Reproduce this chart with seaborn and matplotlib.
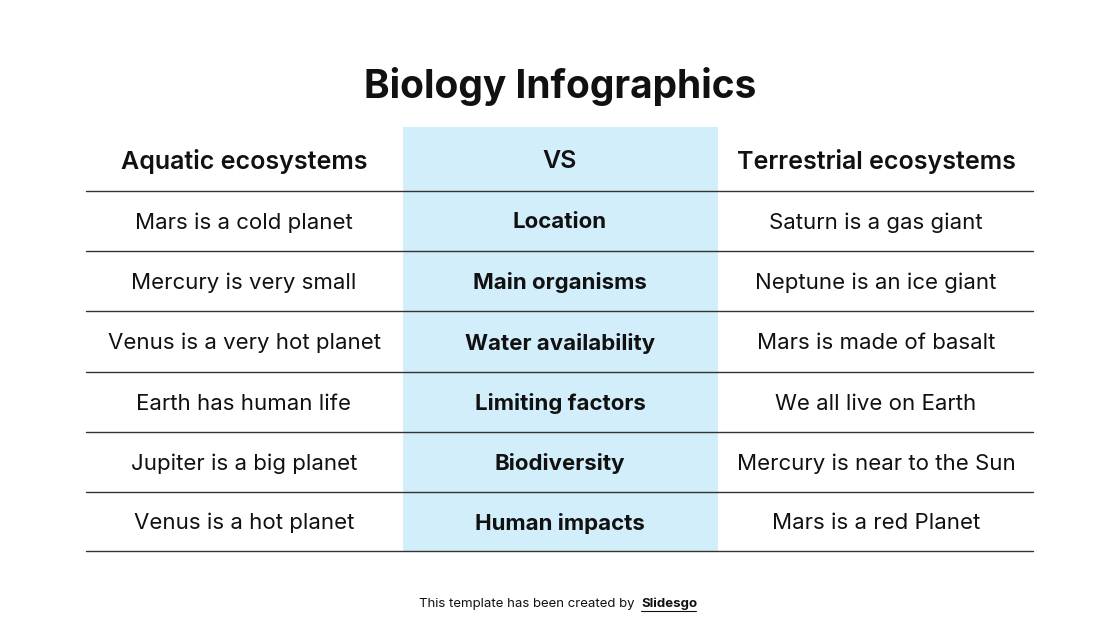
import matplotlib
matplotlib.use("Agg")
import matplotlib.pyplot as plt
import seaborn as sns

title = "Biology Infographics"
headers = ["Aquatic ecosystems", "VS", "Terrestrial ecosystems"]
left_col = ["Mars is a cold planet", "Mercury is very small", "Venus is a very hot planet",
            "Earth has human life", "Jupiter is a big planet", "Venus is a hot planet"]
mid_col = ["Location", "Main organisms", "Water availability",
           "Limiting factors", "Biodiversity", "Human impacts"]
right_col = ["Saturn is a gas giant", "Neptune is an ice giant", "Mars is made of basalt",
             "We all live on Earth", "Mercury is near to the Sun", "Mars is a red Planet"]

sns.set_theme(style="white")
plt.rcParams['font.family'] = ['Inter', 'DejaVu Sans']

fig = plt.figure(figsize=(11.2, 6.3), dpi=100)
ax = fig.add_axes([0, 0, 1, 1])
ax.set_xlim(0, 1120)
ax.set_ylim(630, 0)
ax.axis("off")

ax.text(560, 86, title, ha="center", va="center", fontsize=28, fontweight="bold", color="#111")

ax.fill_between([403, 718], 127, 551, color="#D2EEFB", lw=0, zorder=0)

col_x = [244, 560, 876]
for x, h in zip(col_x, headers):
    ax.text(x, 161, h, ha="center", va="center", fontsize=18, color="#111", fontweight="semibold")

lines_y = [191, 251, 311, 372, 432, 492, 551]
for y in lines_y:
    ax.plot([86, 1033], [y, y], color="#333", lw=1, zorder=2)

for i in range(len(left_col)):
    y = (lines_y[i] + lines_y[i + 1]) / 2 + 1.5
    ax.text(col_x[0], y, left_col[i], ha="center", va="center", fontsize=16, color="#111")
    ax.text(col_x[1], y, mid_col[i], ha="center", va="center", fontsize=16, color="#111", fontweight="bold")
    ax.text(col_x[2], y, right_col[i], ha="center", va="center", fontsize=16, color="#111")

ax.text(638, 604, "This template has been created by ", ha="right", va="center", fontsize=9.5, color="#111")
ax.text(641, 604, "Slidesgo", ha="left", va="center", fontsize=9.5, color="#111", fontweight="bold")
ax.plot([641, 696], [611, 611], color="#111", lw=0.8)

fig.savefig("out.png", dpi=100, facecolor="white")
